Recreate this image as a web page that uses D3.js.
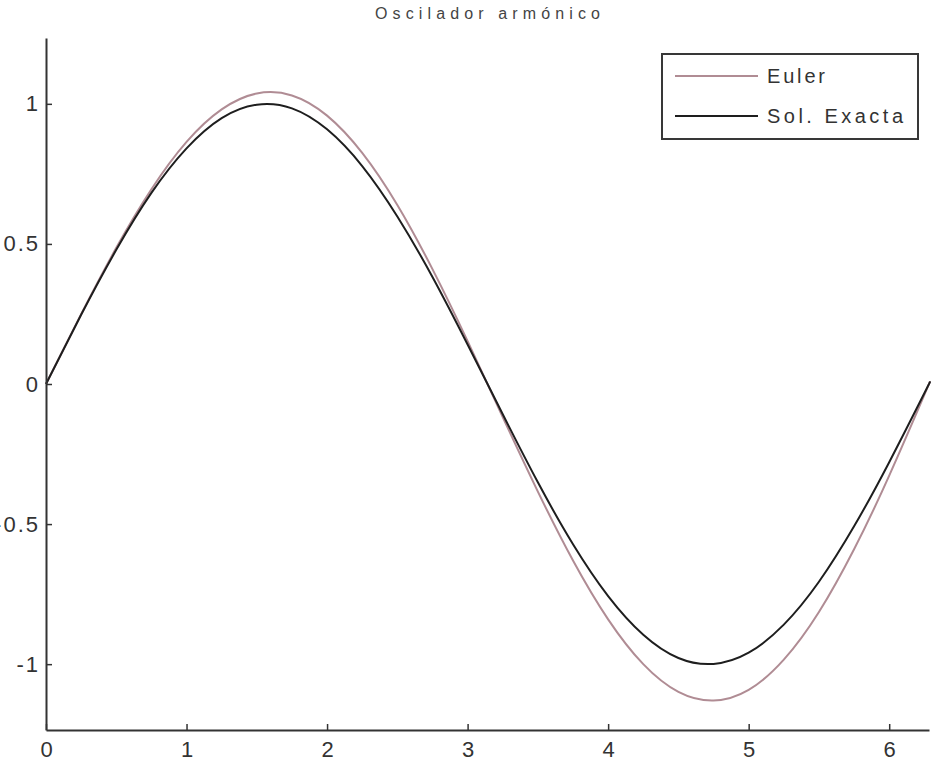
<!DOCTYPE html>
<html>
<head>
    <meta charset="utf-8">
    <title>Oscilador armónico</title>
    <script src="https://d3js.org/d3.v7.min.js"></script>
    <style>
        body {
            margin: 0;
            background: #ffffff;
        }

        text {
            font-family: "Liberation Sans", Arial, sans-serif;
        }

        .tick_label {
            font-size: 22px;
            fill: #333;
            letter-spacing: 2px;
        }
    </style>
</head>
<body>

    <div id="svg_container"></div>

    <script>
        // Canvas size
        const width = 945;
        const height = 763;

        // Data: time, exact solution, Euler approximation
        const t_values = [0, 0.25, 0.5, 0.75, 1.0, 1.25, 1.5, 1.75, 2.0, 2.25, 2.5, 2.75, 3.0,
            3.25, 3.5, 3.75, 4.0, 4.25, 4.5, 4.75, 5.0, 5.25, 5.5, 5.75, 6.0, 6.25, 6.283];
        const exact_values = [0, 0.247, 0.479, 0.682, 0.841, 0.949, 0.997, 0.984, 0.909, 0.778, 0.598, 0.382, 0.141,
            -0.108, -0.351, -0.572, -0.757, -0.895, -0.978, -0.999, -0.959, -0.859, -0.706, -0.508, -0.279, -0.033, 0];
        const euler_values = [0, 0.249, 0.486, 0.695, 0.864, 0.980, 1.037, 1.030, 0.958, 0.825, 0.639, 0.410, 0.153,
            -0.118, -0.384, -0.630, -0.840, -1.000, -1.099, -1.130, -1.092, -0.984, -0.814, -0.590, -0.327, -0.039, 0];

        const x_ticks = [0, 1, 2, 3, 4, 5, 6];
        const y_ticks = [-1, -0.5, 0, 0.5, 1];
        const series_names = ["Euler", "Sol. Exacta"];
        const series_colors = ["#b08c94", "#1e1e1e"];

        // plot area (matlab style, box off)
        const left = 46;
        const right = 929;
        const top_y = 38;
        const bottom_y = 730;

        const x = d3.scaleLinear()
            .domain([0, 2 * Math.PI])
            .range([left, right]);

        const y = d3.scaleLinear()
            .domain([-1.235, 1.235])
            .range([bottom_y, top_y]);

        const svg = d3.select("#svg_container")
            .append("svg")
            .attr("id", "svg_target_id")
            .attr("width", width)
            .attr("height", height);

        svg.append("rect")
            .attr("width", width)
            .attr("height", height)
            .attr("fill", "#ffffff");

        // Title
        svg.append("text")
            .attr("x", (left + right) / 2)
            .attr("y", 19)
            .attr("text-anchor", "middle")
            .attr("textLength", 225)
            .attr("lengthAdjust", "spacing")
            .style("font-size", "16px")
            .attr("fill", "#444")
            .text("Oscilador armónico");

        // Curves
        const series = [euler_values, exact_values];

        const line = d3.line()
            .x((d, i) => x(t_values[i]))
            .y(d => y(d))
            .curve(d3.curveNatural);

        series.forEach((vals, k) => {
            svg.append("path")
                .datum(vals)
                .attr("d", line)
                .attr("fill", "none")
                .attr("stroke", series_colors[k])
                .attr("stroke-width", 2);
        });

        // Axes: ticks pointing inward
        const x_axis = d3.axisBottom(x)
            .tickValues(x_ticks)
            .tickSizeInner(-6)
            .tickSizeOuter(0)
            .tickPadding(12)
            .tickFormat(d3.format("d"));

        const y_axis = d3.axisLeft(y)
            .tickValues(y_ticks)
            .tickSizeInner(-6)
            .tickSizeOuter(0)
            .tickPadding(12)
            .tickFormat(d => String(d)); // plain hyphen minus like matlab

        const gx = svg.append("g")
            .attr("transform", "translate(0," + bottom_y + ")")
            .call(x_axis);

        const gy = svg.append("g")
            .attr("transform", "translate(" + left + ",0)")
            .call(y_axis);

        [gx, gy].forEach(g => {
            g.select(".domain").attr("stroke", "#333").attr("stroke-width", 2);
            g.selectAll(".tick line").attr("stroke", "#333").attr("stroke-width", 1.5);
            g.selectAll(".tick text")
                .attr("class", "tick_label")
                .attr("fill", "#333")
                .style("font-family", "'Liberation Sans', Arial, sans-serif");
        });

        gx.selectAll(".tick text").attr("dy", "0.68em").attr("dx", "1px");
        gy.selectAll(".tick text").attr("dx", "6px");

        // Legend
        const legend = svg.append("g");

        legend.append("rect")
            .attr("x", 662)
            .attr("y", 54)
            .attr("width", 256)
            .attr("height", 85)
            .attr("fill", "#ffffff")
            .attr("stroke", "#383838")
            .attr("stroke-width", 2);

        const legend_rows = [76, 116];
        const legend_widths = [58, 136];

        series_names.forEach((name, k) => {
            legend.append("line")
                .attr("x1", 675)
                .attr("x2", 758)
                .attr("y1", legend_rows[k])
                .attr("y2", legend_rows[k])
                .attr("stroke", series_colors[k])
                .attr("stroke-width", 2);

            legend.append("text")
                .attr("x", 767)
                .attr("y", legend_rows[k] + 7)
                .attr("textLength", legend_widths[k])
                .attr("lengthAdjust", "spacing")
                .style("font-size", "20px")
                .attr("fill", "#333")
                .text(name);
        });
    </script>
</body>
</html>
